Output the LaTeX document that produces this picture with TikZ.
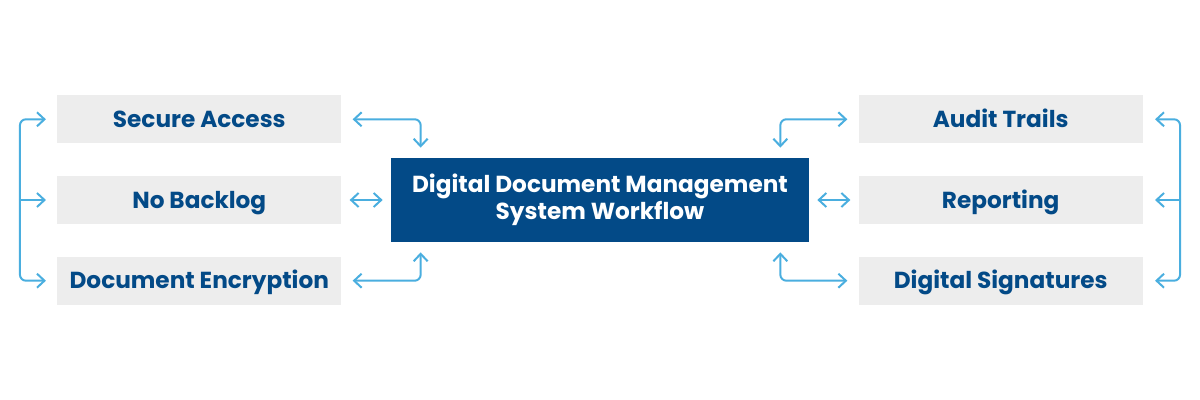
\documentclass[tikz,border=0pt]{standalone}
\usepackage{fontspec}
\setmainfont{Poppins}
\usetikzlibrary{positioning,arrows.meta}
\definecolor{dmsblue}{HTML}{034A87}
\definecolor{boxgray}{HTML}{EDEDED}
\definecolor{linkblue}{HTML}{4AAEDF}
\begin{document}
\begin{tikzpicture}[node distance=0.64cm,
    every node/.style={font=\bfseries\fontsize{13.2}{15.6}\selectfont, align=center},
    feature/.style={fill=boxgray, text=dmsblue, minimum width=5.68cm, minimum height=0.96cm, inner sep=0pt, text height=3.3mm, text depth=0mm},
    hub/.style={fill=dmsblue, text=white, minimum width=8.36cm, minimum height=1.68cm, inner sep=0pt},
    link/.style={draw=linkblue, line width=0.4mm, rounded corners=0.12cm, arrows={-Straight Barb[length=1.5mm, width=2.8mm]}},
    both/.style={arrows={Straight Barb[length=1.5mm, width=2.8mm]-Straight Barb[length=1.5mm, width=2.8mm]}}]
        \useasboundingbox (-12,-4) rectangle (12,4);
        % Define Nodes
        \node (dms) [hub] {Digital Document Management\\System Workflow};
        \node (noback) [feature, left=0.98cm of dms] {No Backlog};
        \node (secure) [feature, above=of noback] {Secure Access};
        \node (encrypt) [feature, below=of noback] {Document Encryption};
        \node (report) [feature, right=0.98cm of dms] {Reporting};
        \node (audit) [feature, above=of report] {Audit Trails};
        \node (signs) [feature, below=of report] {Digital Signatures};
        \coordinate (lbrace) at ([xshift=-0.74cm]noback.west);
        \coordinate (rbrace) at ([xshift=0.74cm]report.east);

        % Draw Edges
        \draw[link, shorten >=0.22cm] (lbrace) |- (secure.west);
        \draw[link, shorten >=0.22cm] (lbrace) -- (noback.west);
        \draw[link, shorten >=0.22cm] (lbrace) |- (encrypt.west);
        \draw[link, shorten >=0.24cm] (rbrace) |- (audit.east);
        \draw[link, shorten >=0.24cm] (rbrace) -- (report.east);
        \draw[link, shorten >=0.24cm] (rbrace) |- (signs.east);
        \draw[link, both, shorten <=0.22cm, shorten >=0.2cm] (secure.east) -| ([xshift=0.6cm]dms.north west);
        \draw[link, both, shorten <=0.16cm, shorten >=0.16cm] (noback.east) -- (dms.west);
        \draw[link, both, shorten <=0.22cm, shorten >=0.2cm] (encrypt.east) -| ([xshift=0.6cm]dms.south west);
        \draw[link, both, shorten <=0.2cm, shorten >=0.22cm] ([xshift=-0.58cm]dms.north east) |- (audit.west);
        \draw[link, both, shorten <=0.16cm, shorten >=0.16cm] (dms.east) -- (report.west);
        \draw[link, both, shorten <=0.2cm, shorten >=0.22cm] ([xshift=-0.58cm]dms.south east) |- (signs.west);
\end{tikzpicture}
\end{document}
